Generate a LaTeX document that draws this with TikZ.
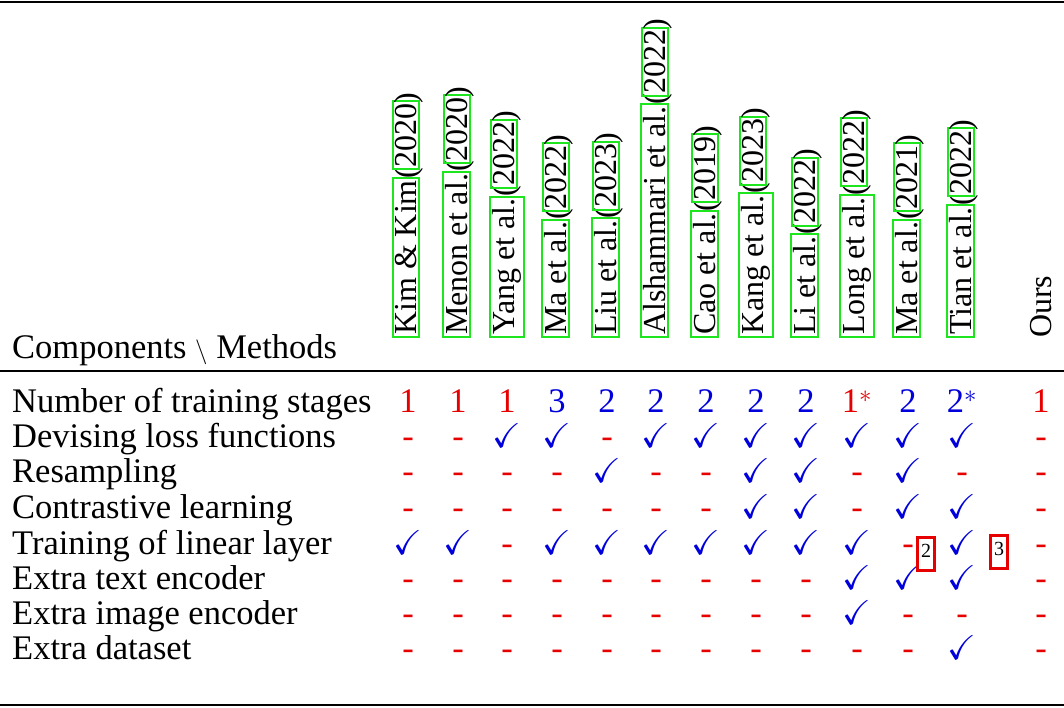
\documentclass[tikz,border=0pt]{standalone}
\usepackage{amssymb}
\usepackage{fontspec}
\setmainfont{Liberation Serif}
\definecolor{gr}{RGB}{30,230,30}
\definecolor{rd}{RGB}{230,0,0}
\definecolor{bl}{RGB}{0,0,220}
\newcommand\gb[1]{{\fboxsep=1pt\fboxrule=2pt\color{gr}\fbox{\color{black}#1}}}
\newcommand\D{\textcolor{rd}{-}}
\newcommand\C{\textcolor{bl}{$\checkmark$}}
\newcommand\R[1]{\textcolor{rd}{#1}}
\newcommand\B[1]{\textcolor{bl}{#1}}
\begin{document}
\begin{tikzpicture}[x=1pt,y=-1pt,
  every node/.style={font=\fontsize{34.5}{38}\selectfont, inner sep=0},
  hdr/.style={rotate=90, anchor=west, font=\fontsize{32}{36}\selectfont},
  lbl/.style={anchor=base west},
  cell/.style={anchor=base},
  redbox/.style={draw=rd, line width=2.2pt, minimum width=17pt, minimum height=33pt, font=\fontsize{20}{20}\selectfont}]
\useasboundingbox (0,0) rectangle (1064,707);
\coordinate (t1) at (0,2); \coordinate (t2) at (1064,2);
\coordinate (m1) at (0,371); \coordinate (m2) at (1064,371);
\coordinate (b1) at (0,705); \coordinate (b2) at (1064,705);
\draw[line width=2.5pt] (t1)--(t2);
\draw[line width=1.3pt] (m1)--(m2);
\draw[line width=2.5pt] (b1)--(b2);
\node[lbl] (hc) at (12,358) {Components $\backslash$ Methods};
\foreach \x/\t [count=\i] in {
  408/{\gb{Kim \& Kim}\kern-1pt(\kern-3pt\gb{2020}\kern-3pt)},
  458/{\gb{Menon et al.}\kern-1pt(\kern-3pt\gb{2020}\kern-3pt)},
  507/{\gb{Yang et al.}\kern-1pt(\kern-3pt\gb{2022}\kern-3pt)},
  557/{\gb{Ma et al.}\kern-1pt(\kern-3pt\gb{2022}\kern-3pt)},
  607/{\gb{Liu et al.}\kern-1pt(\kern-3pt\gb{2023}\kern-3pt)},
  656/{\gb{Alshammari et al.}\kern-1pt(\kern-3pt\gb{2022}\kern-3pt)},
  706/{\gb{Cao et al.}\kern-1pt(\kern-3pt\gb{2019}\kern-3pt)},
  756/{\gb{Kang et al.}\kern-1pt(\kern-3pt\gb{2023}\kern-3pt)},
  806/{\gb{Li et al.}\kern-1pt(\kern-3pt\gb{2022}\kern-3pt)},
  857/{\gb{Long et al.}\kern-1pt(\kern-3pt\gb{2022}\kern-3pt)},
  908/{\gb{Ma et al.}\kern-1pt(\kern-3pt\gb{2021}\kern-3pt)},
  962/{\gb{Tian et al.}\kern-1pt(\kern-3pt\gb{2022}\kern-3pt)},
  1041/{Ours}}
  \node[hdr] (h\i) at (\x,338) {\t};
\foreach \y/\l/\vals [count=\r] in {
  412/{Number of training stages}/{\R{1},\R{1},\R{1},\B{3},\B{2},\B{2},\B{2},\B{2},\B{2},\R{1$^*$},\B{2},\B{2$^*$},\R{1}},
  447/{Devising loss functions}/{\D,\D,\C,\C,\D,\C,\C,\C,\C,\C,\C,\C,\D},
  482/{Resampling}/{\D,\D,\D,\D,\C,\D,\D,\C,\C,\D,\C,\D,\D},
  518/{Contrastive learning}/{\D,\D,\D,\D,\D,\D,\D,\C,\C,\D,\C,\C,\D},
  554/{Training of linear layer}/{\C,\C,\D,\C,\C,\C,\C,\C,\C,\C,\D,\C,\D},
  589/{Extra text encoder}/{\D,\D,\D,\D,\D,\D,\D,\D,\D,\C,\C,\C,\D},
  624/{Extra image encoder}/{\D,\D,\D,\D,\D,\D,\D,\D,\D,\C,\D,\D,\D},
  659/{Extra dataset}/{\D,\D,\D,\D,\D,\D,\D,\D,\D,\D,\D,\C,\D}} {
  \node[lbl] (l\r) at (12,\y) {\l};
  \foreach \v [count=\c] in \vals {
    \pgfmathsetmacro\xx{{408,458,507,557,607,656,706,756,806,857,908,962,1041}[\c-1]}
    \node[cell] (c\r-\c) at (\xx,\y) {\v};
  }
}
\node[redbox] (n2) at (926,554) {\raisebox{7pt}{2}};
\node[redbox] (n3) at (999,552) {\raisebox{7pt}{3}};
\end{tikzpicture}
\end{document}
